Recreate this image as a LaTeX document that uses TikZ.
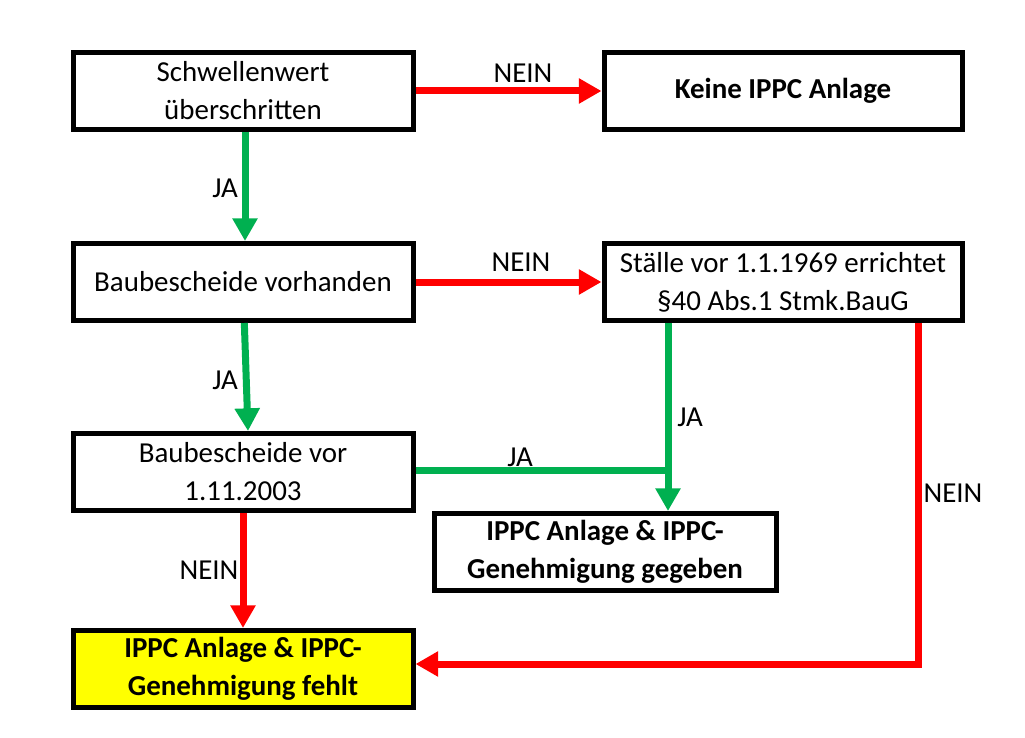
\documentclass[tikz,border=0pt]{standalone}
\usepackage{fontspec}
\setmainfont{Carlito}
\usetikzlibrary{arrows.meta, positioning, calc}
\definecolor{cred}{HTML}{FF0000}
\definecolor{cgreen}{HTML}{00B050}
\definecolor{cyellow}{HTML}{FFFF00}
\tikzset{
  every picture/.style={x=0.75pt, y=-0.75pt},
  box/.style={draw=black, fill=#1, line width=3.75pt, align=center, inner sep=2pt, minimum width=255pt, minimum height=57.75pt, font=\fontsize{21.7}{28.5}\selectfont},
  box/.default=white,
  arrow/.style={-{Triangle[length=17pt, width=18pt]}, line width=5.25pt},
  ja/.style={arrow, draw=cgreen},
  nein/.style={arrow, draw=cred},
  lbl/.style={font=\fontsize{21.7}{26}\selectfont, inner sep=0pt},
}

\begin{document}
\begin{tikzpicture}
  \useasboundingbox (0,0) rectangle (1025,738);

  % decision boxes
  \node[box] (schw) at (243,91)  {Schwellenwert\\überschritten};
  \node[box, minimum width=268.5pt] (keine) at (783,91) {\textbf{Keine IPPC Anlage}};
  \node[box] (bauv) at (243,282) {Baubescheide vorhanden};
  \node[box, minimum width=268.5pt] (stae) at (783,282) {Ställe vor 1.1.1969 errichtet\\§40 Abs.1 Stmk.BauG};
  \node[box] (bau03) at (243,472) {Baubescheide vor\\1.11.2003};
  \node[box, minimum width=256.5pt] (geg) at (605,552) {\textbf{IPPC Anlage \& IPPC-}\\\textbf{Genehmigung gegeben}};
  \node[box=cyellow] (fehlt) at (243,669) {\textbf{IPPC Anlage \& IPPC-}\\\textbf{Genehmigung fehlt}};

  \coordinate (sja) at ($(stae.south)+(-115,0)$);
  \coordinate (snein) at ($(stae.south)+(135,0)$);

  % connectors
  \draw[nein] (schw.east) -- (keine.west);
  \draw[ja] ([xshift=1.5pt]schw.south) -- ([xshift=1.5pt]bauv.north);
  \draw[nein] (bauv.east) -- (stae.west);
  \draw[ja] ([xshift=1pt]bauv.south) -- ([xshift=3.75pt]bau03.north);
  \draw[ja] (sja) -- (sja |- geg.north);
  \draw[ja, -] ($(bau03.east)+(0,-2)$) -- ($(bau03.east -| sja)+(0,-2)$);
  \draw[nein] (bau03.south) -- (fehlt.north);
  \draw[nein] (snein) |- ($(fehlt.east)+(0,-5)$);

  % labels
  \node[lbl] (l1) at (523,73)  {NEIN};
  \node[lbl] (l2) at (225,188) {JA};
  \node[lbl] (l3) at (521,262) {NEIN};
  \node[lbl] (l4) at (225,380) {JA};
  \node[lbl] (l5) at (690,417) {JA};
  \node[lbl] (l6) at (520,457) {JA};
  \node[lbl] (l7) at (209,570) {NEIN};
  \node[lbl] (l8) at (953,493) {NEIN};
\end{tikzpicture}
\end{document}
